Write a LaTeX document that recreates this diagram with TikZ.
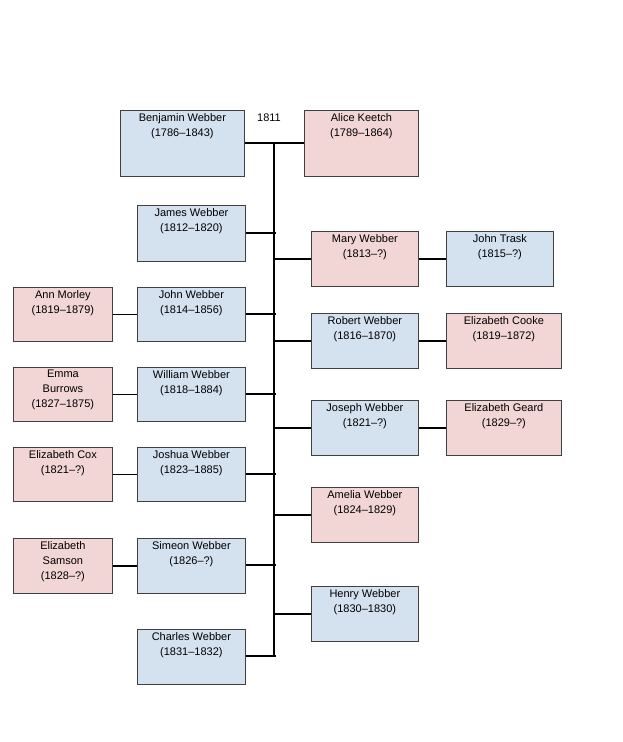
\documentclass[tikz,border=0pt]{standalone}
\usepackage{fontspec}
\setmainfont{Liberation Sans}
\definecolor{boyfill}{HTML}{D4E1EF}
\definecolor{girlfill}{HTML}{F2D5D5}
\tikzset{
	person/.style={draw=black!75, line width=0.8pt, inner sep=0pt, anchor=north west},
	boy/.style={person, fill=boyfill},
	girl/.style={person, fill=girlfill},
	link/.style={line width=1.8pt},
}
% box with top-aligned text: \pers{name}{style}{x}{y}{w}{h}{text}
\newcommand{\pers}[7]{%
	\node[#2, minimum width=#5pt, minimum height=#6pt] (#1) at (#3,#4) {};
	\node[anchor=north, align=center, font=\fontsize{11}{15}\selectfont, inner sep=0pt] at ([yshift=-3pt]#1.north) {#7};
}
\begin{document}
\begin{tikzpicture}[x=1pt, y=-1pt]
	\useasboundingbox (0,0) rectangle (622,742);
	% parents
	\pers{benjamin}{boy}{120}{110}{124}{66}{Benjamin Webber\\(1786--1843)}
	\pers{alice}{girl}{304}{110}{114}{66}{Alice Keetch\\(1789--1864)}
	\node[font=\fontsize{11}{13}\selectfont] (year) at (269,118) {1811};
	% children on the left
	\pers{james}{boy}{137}{205}{108}{56}{James Webber\\(1812--1820)}
	\pers{john}{boy}{137}{287}{108}{54}{John Webber\\(1814--1856)}
	\pers{william}{boy}{137}{367}{108}{54}{William Webber\\(1818--1884)}
	\pers{joshua}{boy}{137}{447}{108}{54}{Joshua Webber\\(1823--1885)}
	\pers{simeon}{boy}{137}{538}{108}{55}{Simeon Webber\\(1826--?)}
	\pers{charles}{boy}{137}{629}{108}{55}{Charles Webber\\(1831--1832)}
	% children on the right
	\pers{mary}{girl}{311}{231}{107}{55}{Mary Webber\\(1813--?)}
	\pers{robert}{boy}{311}{313}{107}{55}{Robert Webber\\(1816--1870)}
	\pers{joseph}{boy}{311}{400}{107}{55}{Joseph Webber\\(1821--?)}
	\pers{amelia}{girl}{311}{487}{107}{55}{Amelia Webber\\(1824--1829)}
	\pers{henry}{boy}{311}{586}{107}{55}{Henry Webber\\(1830--1830)}
	% spouses
	\pers{ann}{girl}{13}{287}{99}{54}{Ann Morley\\(1819--1879)}
	\pers{emma}{girl}{13}{367}{99}{54}{Emma\\Burrows\\(1827--1875)}
	\pers{cox}{girl}{13}{447}{99}{54}{Elizabeth Cox\\(1821--?)}
	\pers{samson}{girl}{13}{538}{99}{55}{Elizabeth\\Samson\\(1828--?)}
	\pers{trask}{boy}{446}{231}{107}{55}{John Trask\\(1815--?)}
	\pers{cooke}{girl}{446}{313}{115}{55}{Elizabeth Cooke\\(1819--1872)}
	\pers{geard}{girl}{446}{400}{115}{55}{Elizabeth Geard\\(1829--?)}
	% trunk
	\coordinate (top) at (274,143);
	\coordinate (bottom) at (274,656);
	\draw[link] (benjamin.east |- top) -- (alice.west |- top);
	\draw[link] (top) -- (bottom);
	\foreach \kid/\yy in {james/233, john/314, william/394, joshua/474, simeon/565, charles/656}
		\draw[link] (\kid.east |- 0,\yy) -- (276,\yy);
	\foreach \kid in {mary, robert, joseph, amelia, henry}
		\draw[link] (\kid.west) -- (\kid.west -| top);
	% marriages
	\draw[link] (ann) -- (john);
	\draw[link] (emma) -- (william);
	\draw[link] (cox) -- (joshua);
	\draw[link] (samson) -- (simeon);
	\draw[link] (mary) -- (trask);
	\draw[link] (robert) -- (cooke);
	\draw[link] (joseph) -- (geard);
\end{tikzpicture}
\end{document}
